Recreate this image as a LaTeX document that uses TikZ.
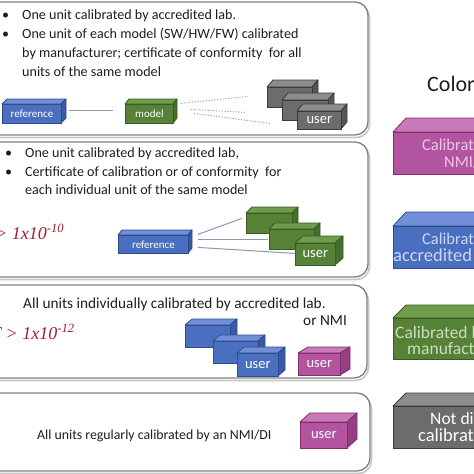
\documentclass[tikz,border=0pt]{standalone}
\usepackage{fontspec}
\setmainfont{Carlito}
\newfontfamily\tms{Liberation Serif}
\usetikzlibrary{calc}
\definecolor{txt}{RGB}{30,30,30}
\definecolor{redc}{RGB}{160,32,48}
\definecolor{pline}{RGB}{128,128,128}
\definecolor{blfront}{RGB}{74,110,192}
\definecolor{bltop}{RGB}{112,143,214}
\definecolor{blside}{RGB}{58,90,165}
\definecolor{blline}{RGB}{47,75,140}
\definecolor{grfront}{RGB}{86,130,56}
\definecolor{grtop}{RGB}{112,156,78}
\definecolor{grside}{RGB}{70,110,44}
\definecolor{grline}{RGB}{58,92,36}
\definecolor{mgfront}{RGB}{178,84,160}
\definecolor{mgtop}{RGB}{200,122,184}
\definecolor{mgside}{RGB}{150,64,132}
\definecolor{mgline}{RGB}{128,44,110}
\definecolor{gyfront}{RGB}{108,108,108}
\definecolor{gytop}{RGB}{140,140,140}
\definecolor{gyside}{RGB}{86,86,86}
\definecolor{gyline}{RGB}{58,58,58}
\newcommand\labf{\fontsize{11}{12}\selectfont}
\newcommand\ulabf{\fontsize{14.5}{16}\selectfont}
\newcommand{\mycube}[9]{%
  \filldraw[fill=#8top, draw=#8line, line width=0.8pt, line join=round] (#2,#3) -- ++(#6,-#7) -- ++(#4,0) -- ++(-#6,#7) -- cycle;
  \filldraw[fill=#8side, draw=#8line, line width=0.8pt, line join=round] (#2+#4,#3) -- ++(#6,-#7) -- ++(0,#5) -- ++(-#6,#7) -- cycle;
  \node[cubefront, fill=#8front, draw=#8line, minimum width=#4pt, minimum height=#5pt] (#1) at (#2,#3) {#9};
}
\tikzset{
  panel/.style={draw=pline, line width=1.3pt, rounded corners=13pt, fill=white},
  pshadow/.style={draw=black!22, line width=1.6pt, rounded corners=13pt},
  body/.style={anchor=base west, inner sep=0pt, font=\fontsize{14.1}{16}\selectfont, text=txt},
  bodyl/.style={body, font=\fontsize{15.3}{17}\selectfont},
  bodys/.style={body, font=\fontsize{13.8}{16}\selectfont},
  redtxt/.style={anchor=base west, inner sep=0pt, font=\tms\itshape\fontsize{18}{20}\selectfont, text=redc},
  cubefront/.style={inner sep=0pt, line width=0.8pt, text=white, anchor=north west},
  leg/.style={anchor=base west, inner sep=0pt, font=\fontsize{16.5}{18}\selectfont},
  legb/.style={leg, font=\fontsize{18.5}{20}\selectfont},
  dotline/.style={draw=gray!75, line width=0.9pt, dash pattern=on 1.2pt off 1.6pt},
  conn/.style={draw={rgb,255:red,140;green,152;blue,182}, line width=1pt},
}
\begin{document}
\begin{tikzpicture}[x=1pt,y=-1pt]
\useasboundingbox (0,0) rectangle (474,474);
\fill[white] (0,0) rectangle (474,474);
% panels
\draw[pshadow] (-19,4.5) rectangle (369.5,137.5);
\draw[panel] (-20,2) rectangle (368,135);
\draw[pshadow] (-19,144.5) rectangle (369.5,279.5);
\draw[panel] (-20,142) rectangle (368,277);
\draw[pshadow] (-19,287.5) rectangle (368.5,380.5);
\draw[panel] (-20,285) rectangle (367,378);
\draw[pshadow] (-19,395.5) rectangle (371.5,473.5);
\draw[panel] (-20,393) rectangle (370,471);
% panel 1 text
\node[body] (b1a) at (2,19.5) {•};
\node[body] (t1a) at (22,19.5) {One unit calibrated by accredited lab.};
\node[body] (b1b) at (2,38.5) {•};
\node[body] (t1b) at (22,38.5) {One unit of each model (SW/HW/FW) calibrated};
\node[body] (t1c) at (22,57.5) {by manufacturer; certificate of conformity~ for all};
\node[body] (t1d) at (22,76.5) {units of the same model};
% panel 1 cubes
\mycube{ref1}{2}{104}{59}{19}{5}{5}{bl}{\labf reference}
\mycube{model}{125}{104}{48}{19}{4}{5}{gr}{\labf model}
\mycube{gray1}{267}{87}{45}{20}{6}{7}{gy}{}
\mycube{gray2}{282}{100}{46}{20}{6}{7}{gy}{}
\mycube{gray3}{297}{111}{44}{18}{6}{7}{gy}{\ulabf user}
\draw[conn] ($(ref1.east)+(7,-3.5)$) -- ($(model.west)+(-12,-3.5)$);
\draw[dotline] ($(model.east)+(7,-10.5)$) -- ($(gray1.west)+(-19,-1)$);
\draw[dotline] ($(model.east)+(17,-4.5)$) -- ($(gray2.west)+(-37,2)$);
\draw[dotline] ($(model.east)+(20,-0.5)$) -- ($(gray3.west)+(-27,3)$);
% panel 2 text
\node[body] (b2a) at (5,157.5) {•};
\node[body] (t2a) at (25,157.5) {One unit calibrated by accredited lab,};
\node[body] (b2b) at (5,176) {•};
\node[body] (t2b) at (25,176) {Certificate of calibration or of conformity~ for};
\node[body] (t2c) at (25,194.5) {each individual unit of the same model};
\node[redtxt] (r2) at (-5,239) {> 1x10\textsuperscript{-10}};
% panel 2 cubes
\mycube{ref2}{118}{235}{70}{18}{4}{5}{bl}{\labf reference}
\mycube{green1}{246}{213}{46}{20}{6}{6}{gr}{}
\mycube{green2}{269}{229}{45}{20}{6}{6}{gr}{}
\mycube{green3}{295}{243}{40}{22}{8}{7}{gr}{\ulabf user}
\draw[conn] ($(ref2.east)+(9,-10)$) -- ($(green1.west)+(-4,-5)$);
\draw[conn] ($(ref2.east)+(9,-5)$) -- ($(green2.west)+(-1,0)$);
\draw[conn] ($(ref2.east)+(9,3)$) -- ($(green3.west)+(0,-1)$);
% panel 3
\node[bodyl] (t3a) at (23,308) {All units individually calibrated by accredited lab.};
\node[bodyl] (t3b) at (303,325) {or NMI};
\node[redtxt] (r3) at (-9,339) {T > 1x10\textsuperscript{-12}};
\mycube{blue1}{185}{325}{45}{22}{7}{6}{bl}{}
\mycube{blue2}{213}{341}{45}{22}{7}{6}{bl}{}
\mycube{blue3}{237}{353}{41}{23}{7}{6}{bl}{\ulabf user}
\mycube{mag3}{298}{353}{42}{22}{10}{6}{mg}{\ulabf user}
% panel 4
\node[bodys] (t4a) at (37,439.5) {All units regularly calibrated by an NMI/DI};
\mycube{mag4}{300}{422}{47}{26}{10}{9}{mg}{\ulabf user}
% legend
\node[anchor=base west, inner sep=0pt, font=\fontsize{22}{24}\selectfont, text=txt] (ttl) at (427,91) {Color code};
\mycube{lgm}{393}{132}{110}{42}{13}{14}{mg}{}
\mycube{lgb}{393}{226}{110}{42}{13}{14}{bl}{}
\mycube{lgg}{393}{318}{110}{41}{13}{13}{gr}{}
\mycube{lgy}{393}{406}{110}{42}{13}{13}{gy}{}
\node[leg, text=mgtop!40!white] (lm1) at (422,150) {Calibrated by};
\node[leg, text=mgtop!40!white] (lm2) at (444,167) {NMI/DI};
\node[leg, text=bltop!35!white] (lb1) at (422,244) {Calibrated by};
\node[legb, text=bltop!35!white] (lb2) at (393,261.5) {accredited laboratory};
\node[leg, font=\fontsize{17.5}{19}\selectfont, text=grtop!35!white] (lg1) at (395,338.5) {Calibrated by the};
\node[leg, font=\fontsize{17.5}{19}\selectfont, text=grtop!35!white] (lg2) at (407,354.5) {manufacturer};
\node[leg, font=\fontsize{17.5}{19}\selectfont, text=white] (ly1) at (430,424) {Not directly};
\node[legb, text=white] (ly2) at (418,441.5) {calibrated};
\end{tikzpicture}
\end{document}
